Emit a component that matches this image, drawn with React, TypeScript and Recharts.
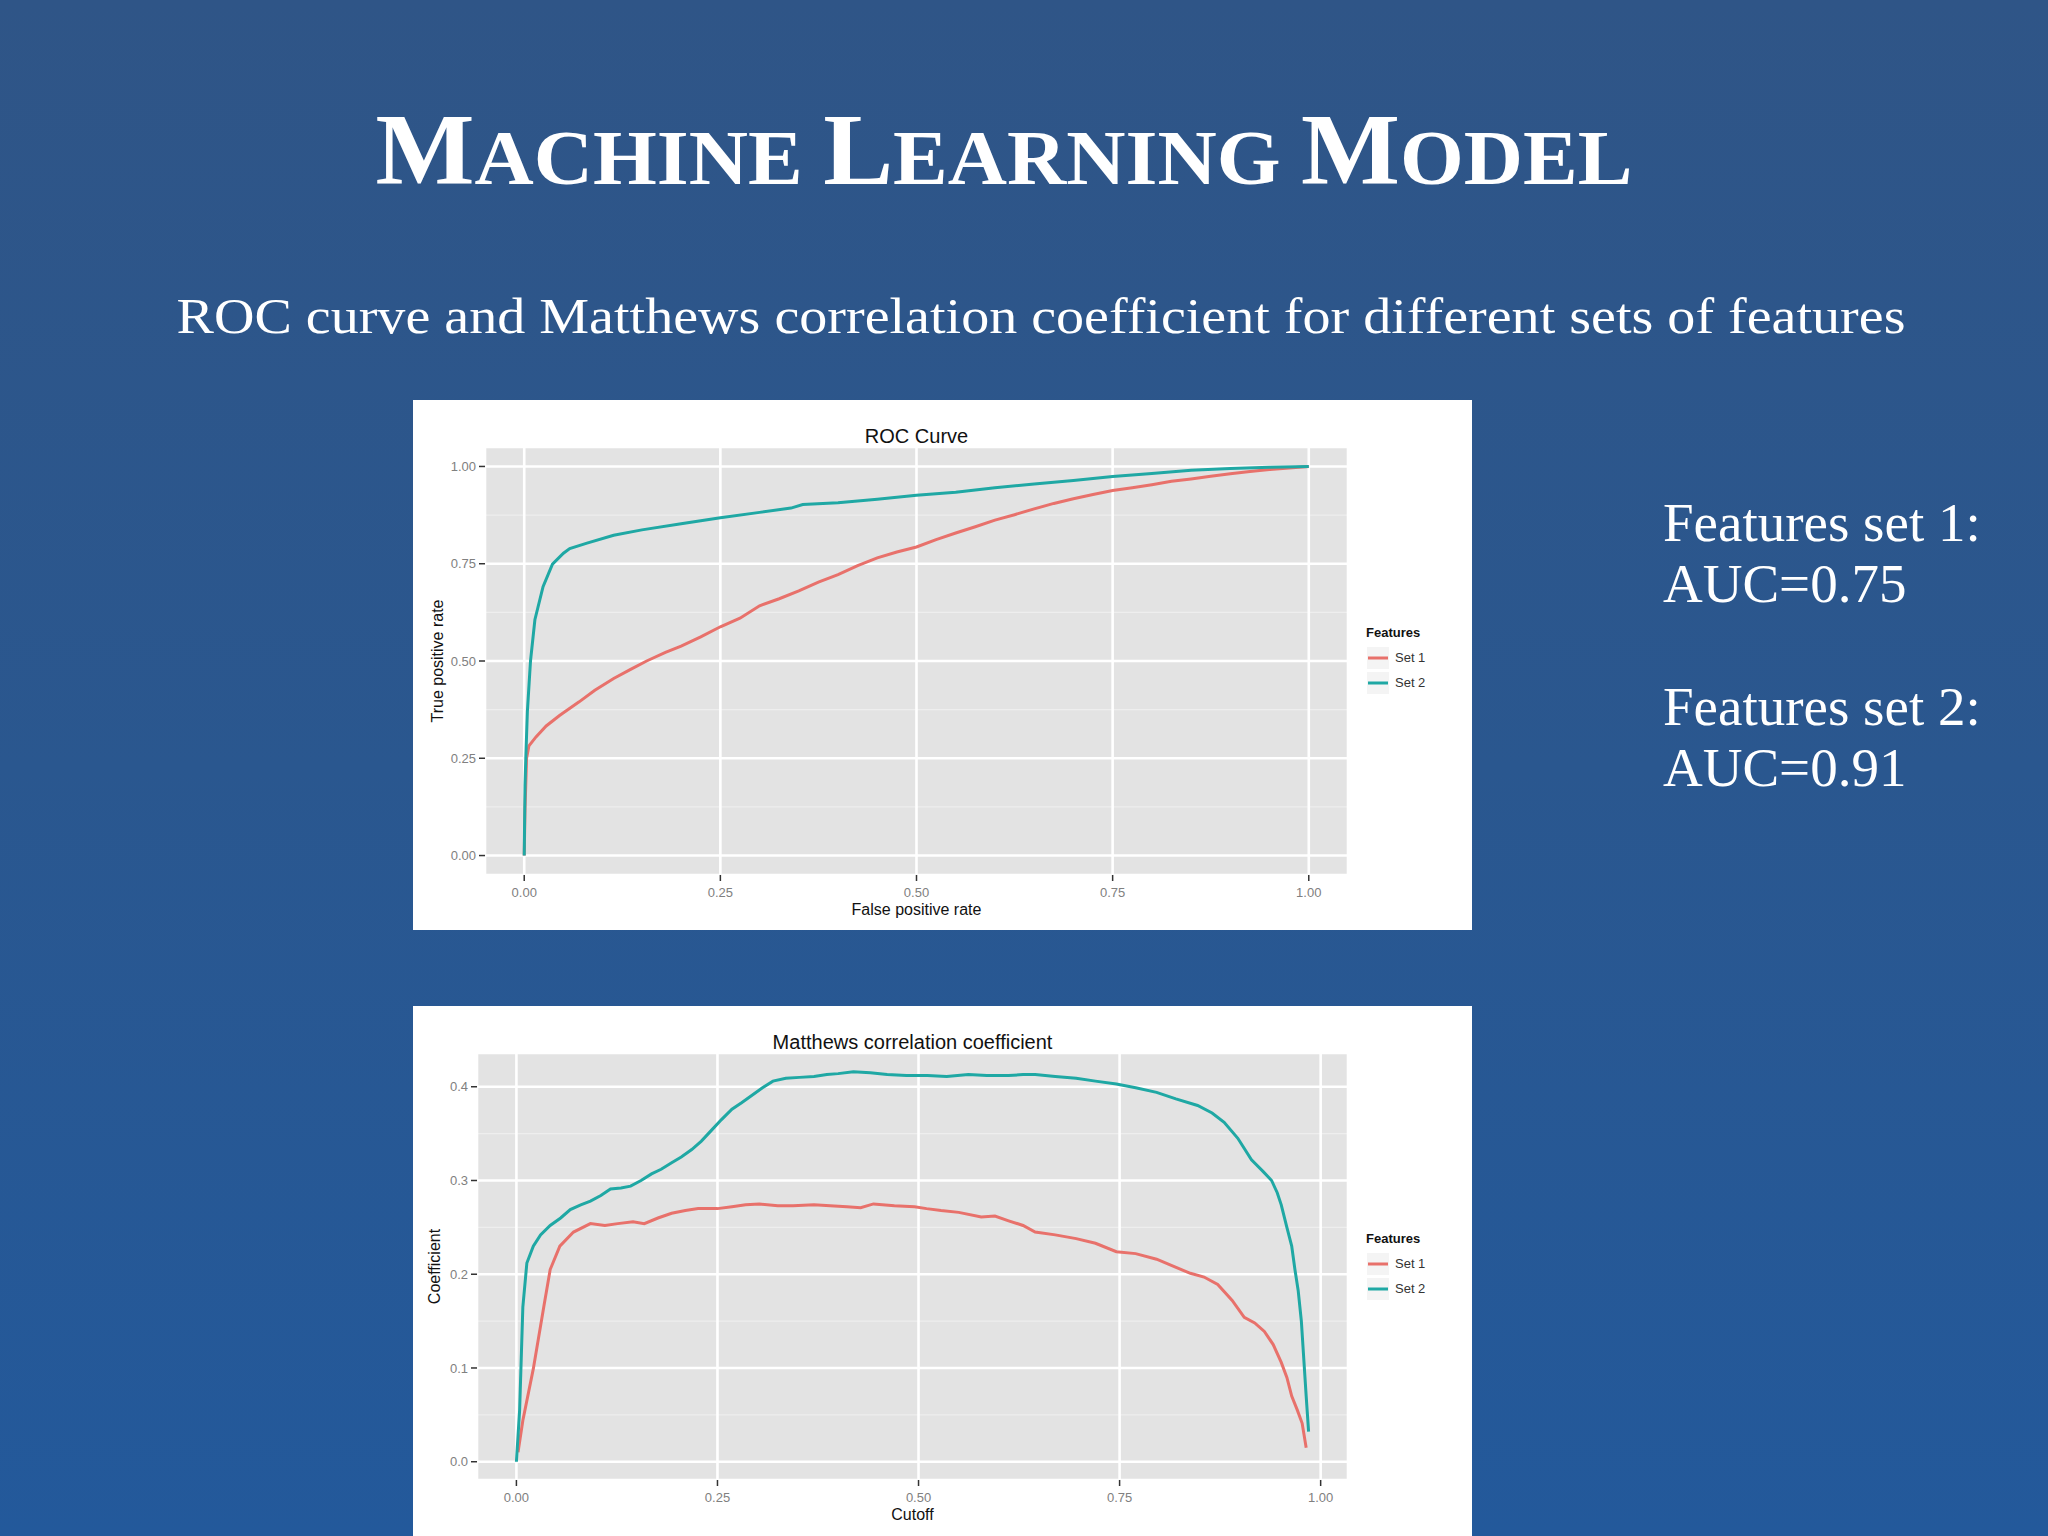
import React from 'react';
import { LineChart, Line, XAxis, YAxis, CartesianGrid, Legend } from 'recharts';

// ---------- shared ----------
const SERIES_NAMES = ['Set 1', 'Set 2'];
const SERIES_COLORS = ['#E8716B', '#1FA8A4'];
const LEGEND_TITLE = 'Features';

// ---------- ROC curve ----------
const ROC_TITLE = 'ROC Curve';
const ROC_X_LABEL = 'False positive rate';
const ROC_Y_LABEL = 'True positive rate';
const rocMajorTicks = [0, 0.25, 0.5, 0.75, 1];
const rocMinorTicks = [0.125, 0.375, 0.625, 0.875];

const rocSet1Fpr = [0, 0.001, 0.003, 0.006, 0.015, 0.028, 0.045, 0.07, 0.09, 0.114, 0.135, 0.156, 0.18, 0.2, 0.225, 0.25, 0.275, 0.3, 0.325, 0.35, 0.375, 0.4, 0.425, 0.45, 0.475, 0.5, 0.525, 0.55, 0.575, 0.6, 0.625, 0.65, 0.675, 0.7, 0.725, 0.75, 0.775, 0.8, 0.825, 0.85, 0.875, 0.9, 0.925, 0.95, 0.975, 1];
const rocSet1Tpr = [0, 0.12, 0.25, 0.282, 0.305, 0.333, 0.36, 0.395, 0.425, 0.455, 0.478, 0.5, 0.522, 0.538, 0.562, 0.588, 0.61, 0.642, 0.66, 0.68, 0.703, 0.722, 0.745, 0.765, 0.78, 0.793, 0.812, 0.829, 0.845, 0.862, 0.876, 0.891, 0.905, 0.917, 0.928, 0.938, 0.945, 0.953, 0.962, 0.968, 0.975, 0.981, 0.987, 0.992, 0.996, 1];
const rocSet2Fpr = [0, 0.001, 0.002, 0.004, 0.008, 0.0136, 0.024, 0.036, 0.05, 0.058, 0.08, 0.114, 0.15, 0.2, 0.25, 0.3, 0.34, 0.355, 0.4, 0.45, 0.5, 0.55, 0.6, 0.65, 0.7, 0.75, 0.8, 0.85, 0.9, 0.95, 1];
const rocSet2Tpr = [0, 0.18, 0.25, 0.37, 0.5, 0.606, 0.691, 0.749, 0.777, 0.789, 0.803, 0.823, 0.837, 0.853, 0.868, 0.882, 0.893, 0.902, 0.907, 0.916, 0.926, 0.934, 0.945, 0.955, 0.964, 0.974, 0.982, 0.99, 0.995, 0.998, 1];

// ---------- Matthews correlation coefficient ----------
const MCC_TITLE = 'Matthews correlation coefficient';
const MCC_X_LABEL = 'Cutoff';
const MCC_Y_LABEL = 'Coefficient';
const mccXMajorTicks = [0, 0.25, 0.5, 0.75, 1];
const mccXMinorTicks = [0.125, 0.375, 0.625, 0.875];
const mccYMajorTicks = [0, 0.1, 0.2, 0.3, 0.4];
const mccYMinorTicks = [0.05, 0.15, 0.25, 0.35];

const mccSet1Cutoff = [0.002, 0.008, 0.021, 0.034, 0.042, 0.054, 0.071, 0.092, 0.11, 0.126, 0.145, 0.159, 0.176, 0.193, 0.21, 0.226, 0.25, 0.268, 0.285, 0.302, 0.325, 0.344, 0.37, 0.39, 0.411, 0.428, 0.444, 0.47, 0.495, 0.51, 0.528, 0.55, 0.578, 0.595, 0.612, 0.63, 0.645, 0.67, 0.696, 0.72, 0.746, 0.77, 0.796, 0.818, 0.838, 0.855, 0.872, 0.89, 0.905, 0.918, 0.93, 0.941, 0.951, 0.958, 0.964, 0.971, 0.977, 0.982];
const mccSet1Coef = [0.01, 0.044, 0.099, 0.165, 0.205, 0.23, 0.245, 0.254, 0.252, 0.254, 0.256, 0.254, 0.26, 0.265, 0.268, 0.27, 0.27, 0.272, 0.274, 0.275, 0.273, 0.273, 0.274, 0.273, 0.272, 0.271, 0.275, 0.273, 0.272, 0.27, 0.268, 0.266, 0.261, 0.262, 0.257, 0.252, 0.245, 0.242, 0.238, 0.233, 0.224, 0.222, 0.216, 0.208, 0.201, 0.197, 0.189, 0.172, 0.154, 0.148, 0.139, 0.125, 0.106, 0.09, 0.07, 0.055, 0.041, 0.015];
const mccSet2Cutoff = [0, 0.004, 0.008, 0.013, 0.021, 0.03, 0.042, 0.055, 0.067, 0.08, 0.092, 0.105, 0.117, 0.13, 0.142, 0.155, 0.168, 0.18, 0.193, 0.205, 0.218, 0.23, 0.243, 0.255, 0.268, 0.28, 0.293, 0.306, 0.319, 0.335, 0.352, 0.37, 0.386, 0.4, 0.419, 0.44, 0.461, 0.485, 0.511, 0.535, 0.562, 0.585, 0.612, 0.63, 0.645, 0.67, 0.696, 0.72, 0.746, 0.77, 0.796, 0.82, 0.847, 0.865, 0.88, 0.897, 0.914, 0.928, 0.939, 0.946, 0.951, 0.958, 0.964, 0.968, 0.972, 0.976, 0.979, 0.982, 0.985];
const mccSet2Coef = [0, 0.055, 0.165, 0.212, 0.23, 0.242, 0.252, 0.26, 0.269, 0.274, 0.278, 0.284, 0.291, 0.292, 0.294, 0.3, 0.307, 0.312, 0.319, 0.325, 0.333, 0.342, 0.354, 0.365, 0.376, 0.383, 0.391, 0.399, 0.406, 0.409, 0.41, 0.411, 0.413, 0.414, 0.416, 0.415, 0.413, 0.412, 0.412, 0.411, 0.413, 0.412, 0.412, 0.413, 0.413, 0.411, 0.409, 0.406, 0.403, 0.399, 0.394, 0.387, 0.38, 0.372, 0.362, 0.345, 0.322, 0.31, 0.3, 0.287, 0.274, 0.25, 0.23, 0.205, 0.183, 0.15, 0.11, 0.07, 0.032];

// ---------- slide text ----------
const SLIDE_TITLE_PARTS = [
  { t: 'M', big: true }, { t: 'ACHINE ', big: false },
  { t: 'L', big: true }, { t: 'EARNING ', big: false },
  { t: 'M', big: true }, { t: 'ODEL', big: false },
];
const SLIDE_SUBTITLE = 'ROC curve and Matthews correlation coefficient for different sets of features';
const SIDE_LINES = ['Features set 1:', 'AUC=0.75', '', 'Features set 2:', 'AUC=0.91'];

const SANS = '"Liberation Sans", Arial, Helvetica, sans-serif';
const SERIF = '"Liberation Serif", "Times New Roman", serif';

const toPoints = (xs: number[], ys: number[]) => xs.map((x, i) => ({ x, y: ys[i] }));

function LegendBox() {
  return (
    <div style={{ fontFamily: SANS, color: '#111', lineHeight: 1 }}>
      <div style={{ height: 25, display: 'flex', alignItems: 'center', fontWeight: 'bold', fontSize: 13 }}>
        {LEGEND_TITLE}
      </div>
      {SERIES_NAMES.map((name, i) => (
        <div key={name} style={{ height: 25, display: 'flex', alignItems: 'center' }}>
          <svg width={24} height={24} style={{ display: 'block' }}>
            <rect x={0.5} y={0.5} width={23} height={23} fill="#F4F4F4" stroke="#FFFFFF" />
            <line x1={2} x2={22} y1={12} y2={12} stroke={SERIES_COLORS[i]} strokeWidth={3} />
          </svg>
          <span style={{ fontSize: 13, marginLeft: 5, color: '#333' }}>{name}</span>
        </div>
      ))}
    </div>
  );
}

type CardProps = {
  top: number;
  title: string;
  xLabel: string;
  yLabel: string;
  series: { x: number; y: number }[][];
  xDomain: [number, number];
  yDomain: [number, number];
  xTicks: number[];
  yTicks: number[];
  xMinor: number[];
  yMinor: number[];
  xDigits: number;
  yDigits: number;
  leftMargin: number;
  bottomMargin: number;
  yLabelOffset: number;
};

const CARD_W = 1059;
const CARD_H = 530;
const Y_AXIS_W = 60;
const X_AXIS_H = 42;
const RIGHT_M = 124;
const TOP_M = 47;

function PlotCard(p: CardProps) {
  const panelLeft = p.leftMargin + Y_AXIS_W;
  const panelW = CARD_W - panelLeft - RIGHT_M;
  const tickStyle = { fill: '#808080', fontSize: 13, fontFamily: SANS };
  return (
    <div style={{ position: 'absolute', left: 413, top: p.top, width: CARD_W, height: CARD_H, background: '#FFFFFF', overflow: 'hidden' }}>
      <div style={{ position: 'absolute', left: panelLeft, width: panelW, top: 26, textAlign: 'center', fontFamily: SANS, fontSize: 20, lineHeight: 1, color: '#111' }}>
        {p.title}
      </div>
      <LineChart width={CARD_W} height={CARD_H} margin={{ top: TOP_M, right: RIGHT_M, bottom: p.bottomMargin, left: p.leftMargin }}>
        <XAxis xAxisId="minor" type="number" domain={p.xDomain} ticks={p.xMinor} allowDataOverflow hide />
        <YAxis yAxisId="minor" type="number" domain={p.yDomain} ticks={p.yMinor} allowDataOverflow hide />
        <CartesianGrid xAxisId="minor" yAxisId="minor" fill="#E3E3E3" stroke="#EEEEEE" strokeWidth={1.2} />
        <CartesianGrid fill="none" stroke="#FFFFFF" strokeWidth={2.6} />
        <XAxis
          type="number"
          dataKey="x"
          domain={p.xDomain}
          ticks={p.xTicks}
          allowDataOverflow
          height={X_AXIS_H}
          axisLine={false}
          tickLine={{ stroke: '#333333', strokeWidth: 1.5 }}
          tickSize={6}
          tickMargin={7}
          tick={tickStyle}
          tickFormatter={(v: number) => v.toFixed(p.xDigits)}
          label={{ value: p.xLabel, position: 'insideBottom', offset: 2, fill: '#111', fontSize: 16, fontFamily: SANS }}
        />
        <YAxis
          type="number"
          dataKey="y"
          domain={p.yDomain}
          ticks={p.yTicks}
          allowDataOverflow
          width={Y_AXIS_W}
          axisLine={false}
          tickLine={{ stroke: '#333333', strokeWidth: 1.5 }}
          tickSize={6}
          tickMargin={3}
          tick={tickStyle}
          tickFormatter={(v: number) => v.toFixed(p.yDigits)}
          label={{ value: p.yLabel, angle: -90, position: 'insideLeft', offset: p.yLabelOffset, fill: '#111', fontSize: 16, fontFamily: SANS, style: { textAnchor: 'middle' } }}
        />
        {p.series.map((s, i) => (
          <Line
            key={SERIES_NAMES[i]}
            name={SERIES_NAMES[i]}
            data={s}
            dataKey="y"
            type="linear"
            stroke={SERIES_COLORS[i]}
            strokeWidth={3}
            dot={false}
            activeDot={false}
            isAnimationActive={false}
          />
        ))}
        <Legend
          layout="vertical"
          align="center"
          verticalAlign="middle"
          content={() => <LegendBox />}
          wrapperStyle={{ left: 953, top: 220, width: 100 }}
        />
      </LineChart>
    </div>
  );
}

export default function App() {
  const rocSeries = [toPoints(rocSet1Fpr, rocSet1Tpr), toPoints(rocSet2Fpr, rocSet2Tpr)];
  const mccSeries = [toPoints(mccSet1Cutoff, mccSet1Coef), toPoints(mccSet2Cutoff, mccSet2Coef)];
  return (
    <div style={{ position: 'absolute', left: 0, top: 0, width: 2048, height: 1536, overflow: 'hidden', background: 'linear-gradient(to bottom, #2F5587 0%, #2A578F 50%, #23599B 100%)' }}>
      <svg width={2048} height={1536} style={{ position: 'absolute', left: 0, top: 0 }}>
        <text x={1004} y={184} textAnchor="middle" fill="#FFFFFF" fontFamily={SERIF} fontWeight="bold" fontSize={101} textLength={1257} lengthAdjust="spacingAndGlyphs">
          {SLIDE_TITLE_PARTS.map((part, i) => (
            <tspan key={i} fontSize={part.big ? 101 : 79}>{part.t}</tspan>
          ))}
        </text>
        <text x={1041} y={333} textAnchor="middle" fill="#FFFFFF" fontFamily={SERIF} fontSize={50} textLength={1729} lengthAdjust="spacingAndGlyphs">
          {SLIDE_SUBTITLE}
        </text>
        {SIDE_LINES.map((line, i) => (
          line ? (
            <text key={i} x={1663} y={541 + i * 61.2} fill="#FFFFFF" fontFamily={SERIF} fontSize={55}>{line}</text>
          ) : null
        ))}
      </svg>
      <PlotCard
        top={400}
        title={ROC_TITLE}
        xLabel={ROC_X_LABEL}
        yLabel={ROC_Y_LABEL}
        series={rocSeries}
        xDomain={[-0.05, 1.05]}
        yDomain={[-0.05, 1.05]}
        xTicks={rocMajorTicks}
        yTicks={rocMajorTicks}
        xMinor={rocMinorTicks}
        yMinor={rocMinorTicks}
        xDigits={2}
        yDigits={2}
        leftMargin={12}
        bottomMargin={13}
        yLabelOffset={12}
      />
      <PlotCard
        top={1006}
        title={MCC_TITLE}
        xLabel={MCC_X_LABEL}
        yLabel={MCC_Y_LABEL}
        series={mccSeries}
        xDomain={[-0.049, 1.034]}
        yDomain={[-0.0195, 0.436]}
        xTicks={mccXMajorTicks}
        yTicks={mccYMajorTicks}
        xMinor={mccXMinorTicks}
        yMinor={mccYMinorTicks}
        xDigits={2}
        yDigits={1}
        leftMargin={4}
        bottomMargin={14}
        yLabelOffset={17}
      />
    </div>
  );
}
